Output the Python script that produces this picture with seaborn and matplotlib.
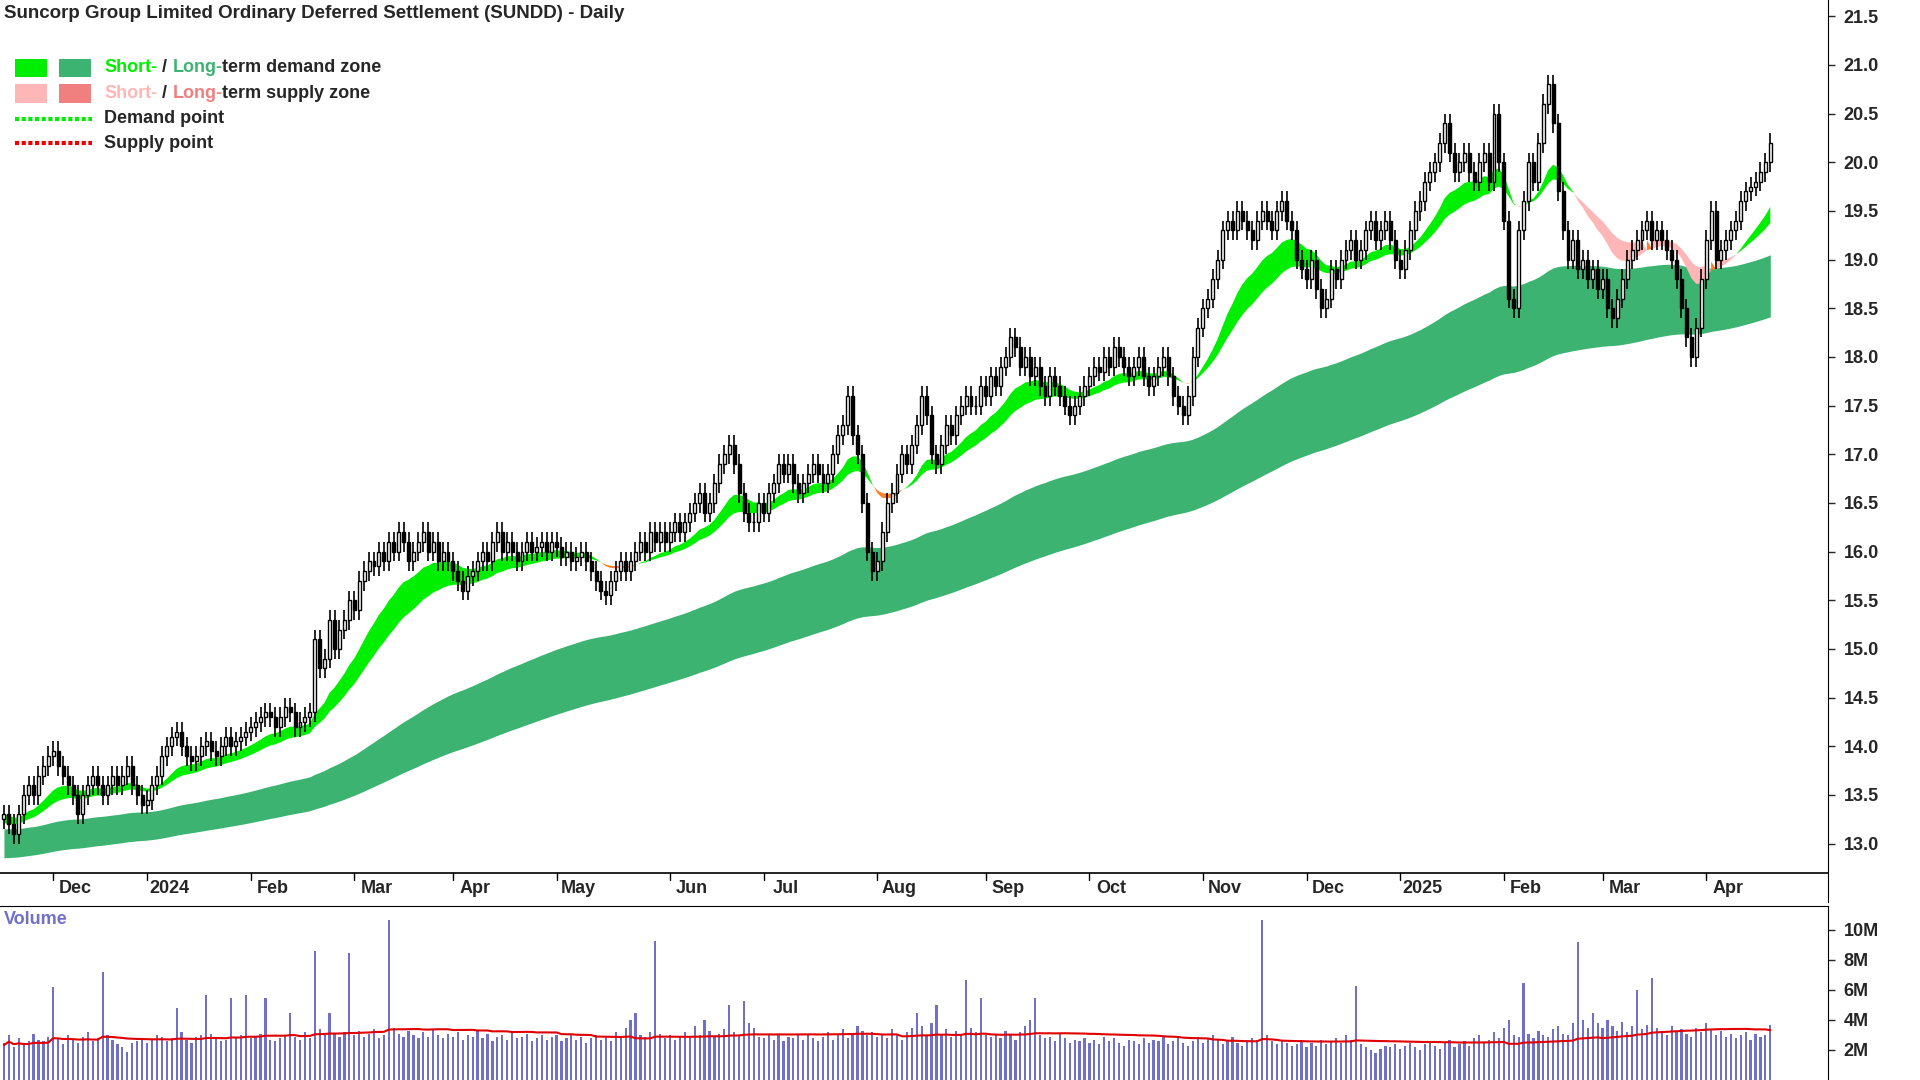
import numpy as np
import pandas as pd
import matplotlib
matplotlib.use("Agg")
import matplotlib.pyplot as plt
from matplotlib.patches import Rectangle
import seaborn as sns

# ---------------- data (daily closes per month) ----------------
c_2023_11 = [13.3,13.2,13.1,13.3,13.5,13.6,13.5,13.7]
c_2023_12 = [13.8,13.9,13.95,13.8,13.7,13.6,13.5,13.3,13.5,13.6,13.7,13.6,13.5,13.6,13.7,13.6,13.7,13.8,13.6]
c_2024_01 = [13.5,13.4,13.45,13.6,13.7,13.9,14.0,14.1,14.15,14.0,13.9,13.85,13.9,14.0,14.05,13.95,13.9,14.0,14.1,14.0,14.05]
c_2024_02 = [14.1,14.15,14.2,14.25,14.3,14.35,14.3,14.2,14.3,14.4,14.35,14.2,14.25,14.3,14.35,15.1,14.8,14.9,15.3,15.0,15.2]
c_2024_03 = [15.3,15.5,15.4,15.7,15.8,15.9,15.85,16.0,15.9,16.1,16.0,16.2,16.1,15.9,16.0,16.1,16.2,16.0,16.1,15.9]
c_2024_04 = [16.0,15.9,15.8,15.7,15.6,15.75,15.8,15.9,16.0,15.9,16.1,16.2,16.0,16.1,16.0,15.9,16.0,16.1,16.0,16.05,16.1]
c_2024_05 = [16.0,16.1,16.05,15.95,16.0,15.9,15.95,16.0,15.9,15.8,15.7,15.6,15.55,15.7,15.8,15.9,15.8,15.9,16.0,16.1,16.0,16.2,16.1]
c_2024_06 = [16.2,16.1,16.2,16.3,16.2,16.3,16.4,16.5,16.6,16.4,16.5,16.7,16.9,17.0,17.1,16.9,16.6,16.4,16.3]
c_2024_07 = [16.3,16.5,16.4,16.6,16.7,16.9,16.8,16.9,16.7,16.6,16.7,16.8,16.9,16.8,16.7,16.8,17.0,17.2,17.3,17.6,17.2,17.0,16.5]
c_2024_08 = [16.0,15.8,15.9,16.2,16.5,16.6,16.8,17.0,16.9,17.1,17.3,17.6,17.4,17.0,16.9,17.1,17.3,17.2,17.4,17.5,17.6,17.5]
c_2024_09 = [17.5,17.7,17.6,17.8,17.7,17.9,18.0,18.2,18.1,17.9,18.0,17.8,17.9,17.7,17.6,17.8,17.7,17.6,17.5,17.4,17.5]
c_2024_10 = [17.6,17.7,17.8,17.9,17.85,18.0,17.9,18.1,18.0,17.9,17.8,17.9,18.0,17.8,17.7,17.8,17.9,18.0,17.8,17.6,17.5,17.4,17.6]
c_2024_11 = [18.0,18.3,18.5,18.6,18.8,19.0,19.3,19.4,19.3,19.5,19.4,19.3,19.2,19.4,19.5,19.4,19.3,19.5,19.6,19.4,19.3]
c_2024_12 = [19.0,18.9,18.8,19.0,18.7,18.5,18.6,18.9,18.8,19.0,19.1,19.2,19.0,19.1,19.3,19.4,19.2,19.3,19.4]
c_2025_01 = [19.2,19.0,18.9,19.1,19.3,19.5,19.6,19.8,19.9,20.0,20.2,20.4,20.1,19.9,20.0,20.1,19.9,19.8,20.0,20.1,19.8]
c_2025_02 = [20.5,20.0,19.4,18.6,18.5,19.3,19.6,20.0,19.8,20.2,20.6,20.8,20.4,19.7,19.3,19.0,19.2,18.9,19.0,18.8]
c_2025_03 = [18.9,18.7,18.8,18.5,18.4,18.6,18.8,19.0,19.1,19.2,19.3,19.4,19.2,19.3,19.2,19.1,19.0,18.8,18.5,18.2,18.0]
c_2025_04 = [18.3,18.8,19.2,19.5,19.0,19.1,19.2,19.3,19.4,19.6,19.7,19.75,19.8,19.9,20.0,20.2]

# daily volume (millions) per month
v_2023_11 = [2.5,3.0,2.2,2.8,2.4,2.6,3.1,2.7]
v_2023_12 = [2.6,2.9,6.2,2.8,2.4,3.0,2.7,2.5,2.9,3.2,2.6,2.8,7.2,3.0,2.7,2.4,2.2,1.9,2.5]
v_2024_01 = [2.6,2.8,2.5,2.7,3.0,2.9,2.6,2.8,4.8,3.2,2.7,2.5,2.9,3.0,5.7,3.1,2.8,2.6,2.7,5.5,2.9]
v_2024_02 = [3.0,5.7,2.8,2.9,3.1,5.5,2.7,2.6,2.8,3.0,4.5,2.9,2.7,3.2,2.8,8.6,3.4,3.0,4.5,3.1,2.9]
v_2024_03 = [3.2,8.5,3.0,3.3,2.9,3.1,3.4,2.8,3.0,10.7,3.5,3.1,2.9,3.3,3.0,2.8,3.2,2.9,3.4,3.0]
v_2024_04 = [2.8,3.1,2.9,3.2,2.7,3.0,2.9,3.3,2.8,3.1,2.6,2.9,3.0,2.7,3.2,2.8,2.9,3.1,2.6,2.8,3.0]
v_2024_05 = [2.7,2.9,3.0,2.6,2.8,3.1,2.7,2.9,2.5,2.8,3.0,2.7,2.9,2.6,3.2,2.8,3.5,4.0,4.5,3.0,2.9,3.2,9.3]
v_2024_06 = [3.1,2.8,3.0,2.7,2.9,3.2,2.8,3.6,3.0,4.0,3.3,2.9,3.1,3.4,5.0,3.2,3.0,5.3,3.8]
v_2024_07 = [3.5,2.9,2.8,3.1,2.7,3.0,2.6,2.9,2.8,3.1,2.7,3.0,2.8,2.6,2.9,3.2,2.7,3.0,3.4,2.8,3.1,3.6,3.3]
v_2024_08 = [3.0,3.2,2.9,3.1,2.8,3.4,3.0,2.7,3.2,3.5,4.5,3.6,3.0,3.8,5.0,3.1,3.4,2.9,3.3,3.0,6.7,3.5]
v_2024_09 = [3.2,5.5,3.0,2.9,3.1,2.8,3.3,3.0,2.7,3.2,3.6,4.0,5.5,3.0,2.8,2.9,2.6,3.1,2.8,2.5,2.7]
v_2024_10 = [2.6,2.8,2.5,2.7,2.4,2.9,2.6,2.8,2.5,2.3,2.7,2.6,2.4,2.8,2.5,2.7,2.6,2.9,2.4,2.6,2.8,2.5,2.3]
v_2024_11 = [2.6,2.9,2.5,2.8,3.0,2.7,2.4,2.6,2.9,2.5,2.3,2.6,2.8,2.7,10.7,3.0,2.6,2.4,2.7,2.5,2.3]
v_2024_12 = [2.4,2.6,2.2,2.5,2.3,2.7,2.4,2.6,2.8,2.5,3.0,2.7,6.3,2.4,2.2,2.0,1.8,2.1,2.3]
v_2025_01 = [2.2,2.4,2.1,2.3,2.5,2.2,2.0,2.4,2.6,2.3,2.1,2.5,2.7,2.2,2.4,2.6,2.3,2.8,3.0,2.5,2.7]
v_2025_02 = [3.2,2.8,3.5,4.0,3.0,2.9,6.5,3.1,2.8,3.3,3.0,2.9,3.4,3.6,3.1,3.0,3.8,9.2,4.0,3.5]
v_2025_03 = [4.5,3.8,3.5,4.0,3.6,3.3,3.9,3.2,3.6,6.0,3.4,3.7,6.8,3.5,3.3,3.0,3.6,3.2,3.4,3.1,2.9]
v_2025_04 = [3.5,3.2,3.8,3.4,3.0,3.3,2.9,3.1,2.8,3.0,3.2,2.7,3.1,2.9,3.0,3.7]

month_labels = [None,"Dec","2024","Feb","Mar","Apr","May","Jun","Jul","Aug","Sep","Oct",
                "Nov","Dec","2025","Feb","Mar","Apr"]
close_months = [c_2023_11,c_2023_12,c_2024_01,c_2024_02,c_2024_03,c_2024_04,c_2024_05,c_2024_06,
                c_2024_07,c_2024_08,c_2024_09,c_2024_10,c_2024_11,c_2024_12,c_2025_01,c_2025_02,
                c_2025_03,c_2025_04]
vol_months = [v_2023_11,v_2023_12,v_2024_01,v_2024_02,v_2024_03,v_2024_04,v_2024_05,v_2024_06,
              v_2024_07,v_2024_08,v_2024_09,v_2024_10,v_2024_11,v_2024_12,v_2025_01,v_2025_02,
              v_2025_03,v_2025_04]
wick = 0.1
long_seed_fast, long_seed_slow = 13.15, 12.85
price_ticks = [13.0,13.5,14.0,14.5,15.0,15.5,16.0,16.5,17.0,17.5,18.0,18.5,19.0,19.5,20.0,20.5,21.0,21.5]
vol_ticks = [2,4,6,8,10]

# ---------------- derived ----------------
closes = np.concatenate([np.array(m, float) for m in close_months])
vols = np.concatenate([np.array(m, float) for m in vol_months])
n = len(closes)
x = np.arange(n)
opens = np.r_[closes[0] - 0.05, closes[:-1]]
highs = np.maximum(opens, closes) + wick
lows = np.minimum(opens, closes) - wick
month_starts = np.cumsum([0] + [len(m) for m in close_months])[:-1]

def ema(vals, span, seed=None):
    a = 2 / (span + 1)
    out = np.empty_like(vals)
    prev = vals[0] if seed is None else seed
    for i, v in enumerate(vals):
        prev = a * v + (1 - a) * prev
        out[i] = prev
    return out

sf, ss = ema(closes, 16, 13.3), ema(closes, 28, 13.2)
lf, ls = ema(closes, 110, long_seed_fast), ema(closes, 200, long_seed_slow)
vol_ma = pd.Series(vols).rolling(50, min_periods=1).mean().values * 0.93
df_vol = pd.DataFrame({"x": x, "ma": vol_ma})

# ---------------- plot ----------------
sns.set_style("white")
plt.rcParams["font.family"] = ["Liberation Sans", "DejaVu Sans"]
fig = plt.figure(figsize=(19.2, 10.8), dpi=100)
W, H = 1568, 882
axp = fig.add_axes([0, 1 - 737 / H, 1493 / W, 737 / H])
axv = fig.add_axes([0, 0, 1493 / W, (882 - 740) / H])
xmin, xmax = -0.8, (1493 - 3) / 4.03
ppu = 79.5
ytop = 13 + 689 / ppu
ybot = 13 - (737 - 689) / ppu
yline = 13 - (713 - 689) / ppu

# long-term zone
axp.fill_between(x, lf, ls, where=lf >= ls, color="#3cb371", lw=0, interpolate=True, zorder=1)
axp.fill_between(x, lf, ls, where=lf < ls, color="#f08080", lw=0, interpolate=True, zorder=1)
# short-term zone
supply = sf < ss
pink = supply & (closes < ls + 1.2) & (x > 300)
axp.fill_between(x, sf, ss, where=~supply, color="#00ee00", lw=0, interpolate=True, zorder=2)
axp.fill_between(x, sf, ss, where=supply & ~pink, color="#ff7f27", lw=0, interpolate=True, zorder=2)
axp.fill_between(x, sf, ss, where=pink, color="#ffb6b6", lw=0, interpolate=True, zorder=2)

# candles
up = closes >= opens
axp.vlines(x, lows, highs, color="black", lw=1.2, zorder=3)
axp.bar(x[up], (closes - opens)[up], bottom=opens[up], width=0.6, color="white",
        edgecolor="black", lw=1.0, zorder=4)
axp.bar(x[~up], (opens - closes)[~up], bottom=closes[~up], width=0.6, color="black",
        edgecolor="black", lw=1.0, zorder=4)

axp.set_xlim(xmin, xmax)
axp.set_ylim(ybot, ytop)
axp.axhline(yline, color="black", lw=1.2)
axp.yaxis.tick_right()
axp.set_yticks(price_ticks)
axp.set_yticklabels([f"{t:.1f}" for t in price_ticks], fontsize=13, fontweight="bold")
axp.tick_params(axis="y", length=5, width=1, direction="out", pad=6)
axp.set_xticks([])
for s in ["left", "top", "bottom"]:
    axp.spines[s].set_visible(False)
axp.spines["right"].set_color("black")
for ms, lab in zip(month_starts, month_labels):
    if lab is None:
        continue
    axp.plot([ms + 2, ms + 2], [yline, yline - 0.07], color="black", lw=1)
    axp.text(ms + 6.5, yline - 0.16, lab, fontsize=13, fontweight="bold", ha="center", va="center")

axp.text(0.002, 0.995, "Suncorp Group Limited Ordinary Deferred Settlement (SUNDD) - Daily",
         transform=axp.transAxes, fontsize=13.5, fontweight="bold", va="top", ha="left")

# legend
def fx(px): return px / 1493
def fy(py): return 1 - py / 737
rows = [(55, "#00ee00", "#3cb371", "Short-", "#00ee00", "Long-", "#3cb371", "term demand zone"),
        (76, "#ffb6b6", "#f08080", "Short-", "#ffb6b6", "Long-", "#f08080", "term supply zone")]
for py, c1, c2, t1, tc1, t2, tc2, t3 in rows:
    axp.add_patch(Rectangle((fx(12), fy(py + 8)), fx(26), 15 / 737, transform=axp.transAxes,
                            color=c1, lw=0))
    axp.add_patch(Rectangle((fx(48), fy(py + 8)), fx(26), 15 / 737, transform=axp.transAxes,
                            color=c2, lw=0))
    t = axp.text(fx(85), fy(py), t1, color=tc1, transform=axp.transAxes, fontsize=13,
                 fontweight="bold", va="center")
    t = axp.annotate(" / ", xycoords=t, xy=(1, 0), va="bottom", fontsize=13, fontweight="bold")
    t = axp.annotate(t2, xycoords=t, xy=(1, 0), va="bottom", fontsize=13, fontweight="bold", color=tc2)
    axp.annotate(t3, xycoords=t, xy=(1, 0), va="bottom", fontsize=13, fontweight="bold")
for py, col, lab in [(97, "#00ee00", "Demand point"), (117, "#ee0000", "Supply point")]:
    axp.plot([fx(12), fx(75)], [fy(py), fy(py)], transform=axp.transAxes, color=col, lw=3,
             ls=(0, (1, 0.6)))
    axp.text(fx(85), fy(py), lab, transform=axp.transAxes, fontsize=13, fontweight="bold", va="center")

# volume
axv.bar(x, vols, width=0.45, color="#7070c8", lw=0)
sns.lineplot(data=df_vol, x="x", y="ma", ax=axv, color="#e00000", lw=1.5)
axv.set_xlim(xmin, xmax)
axv.set_ylim(0, (882 - 740) / 12.25)
axv.yaxis.tick_right()
axv.set_yticks(vol_ticks)
axv.set_yticklabels([f"{t}M" for t in vol_ticks], fontsize=13, fontweight="bold")
axv.tick_params(axis="y", length=5, width=1, direction="out", pad=6)
axv.set_xticks([])
axv.set_xlabel("")
axv.set_ylabel("")
for s in ["left", "bottom"]:
    axv.spines[s].set_visible(False)
axv.spines["top"].set_color("black")
axv.spines["right"].set_color("black")
axv.text(0.002, 0.97, "Volume", transform=axv.transAxes, fontsize=13, fontweight="bold",
         color="#7070c8", va="top")

fig.savefig("out.png", dpi=100)
